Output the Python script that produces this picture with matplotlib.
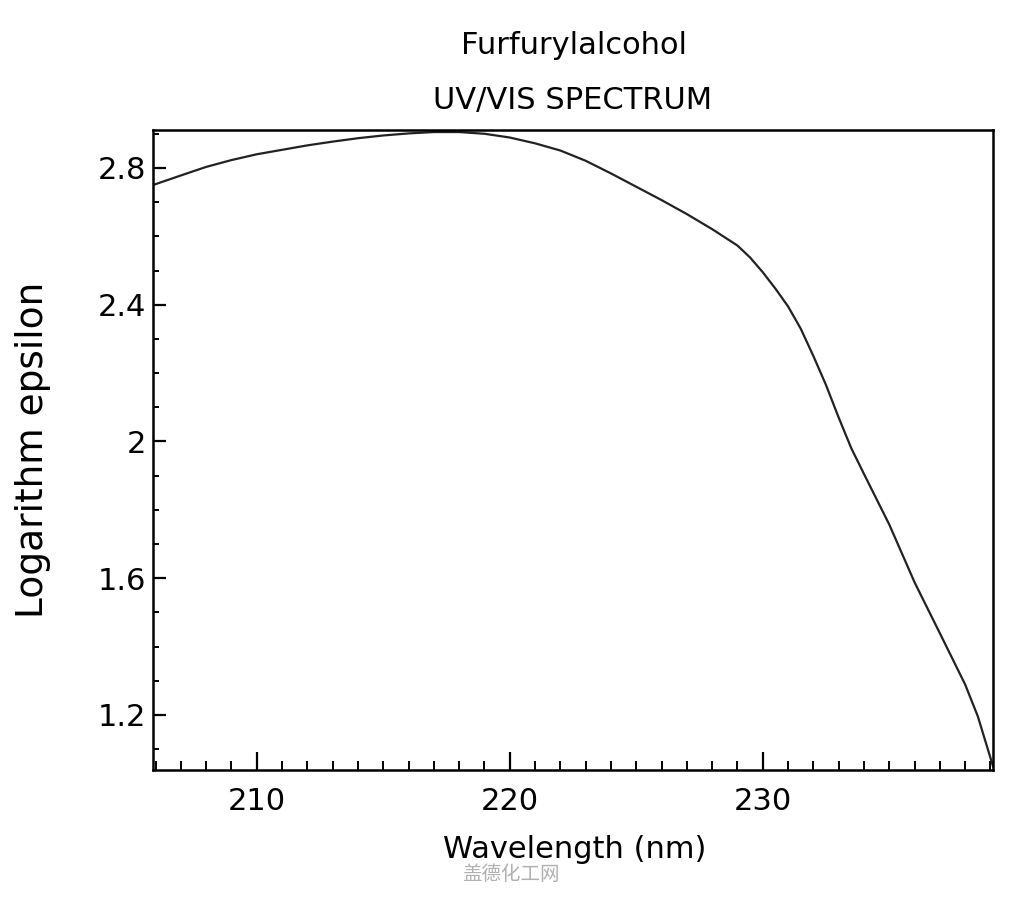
import matplotlib
matplotlib.use("Agg")
import matplotlib.pyplot as plt
from matplotlib.ticker import MultipleLocator, FuncFormatter

# spectrum (nm, log epsilon)
wavelength = [205.9, 207.0, 208.0, 209.0, 210.0, 211.0, 212.0, 213.0, 214.0,
              215.0, 216.0, 217.0, 218.0, 219.0, 220.0, 221.0, 222.0, 223.0,
              224.0, 225.0, 226.0, 227.0, 228.0, 229.0, 229.5, 230.0, 230.5,
              231.0, 231.5, 232.0, 232.5, 233.0, 233.5, 234.0, 235.0, 236.0,
              237.0, 238.0, 238.5, 239.1]
log_eps = [2.750, 2.778, 2.803, 2.823, 2.840, 2.853, 2.866, 2.877, 2.887,
           2.895, 2.901, 2.905, 2.905, 2.900, 2.889, 2.872, 2.851, 2.821,
           2.784, 2.745, 2.706, 2.665, 2.621, 2.573, 2.538, 2.495, 2.447,
           2.395, 2.330, 2.250, 2.165, 2.070, 1.980, 1.905, 1.757, 1.588,
           1.439, 1.289, 1.196, 1.050]

compound = "Furfurylalcohol"
subtitle = "UV/VIS SPECTRUM"

fig = plt.figure(figsize=(10.24, 9.0), dpi=100)
ax = fig.add_axes([153 / 1024, 1 - 770 / 900, 840 / 1024, 640 / 900])

ax.plot(wavelength, log_eps, color="#222222", lw=1.6)
ax.set_xlim(205.9, 239.1)
ax.set_ylim(1.039, 2.911)

ax.xaxis.set_major_locator(MultipleLocator(10))
ax.xaxis.set_minor_locator(MultipleLocator(1))
ax.yaxis.set_major_locator(MultipleLocator(0.4))
ax.yaxis.set_minor_locator(MultipleLocator(0.1))
ax.yaxis.set_major_formatter(FuncFormatter(lambda v, p: "%g" % round(v, 2)))

ax.tick_params(axis="x", which="major", direction="in", length=13, width=1.6,
               labelsize=22, pad=12)
ax.tick_params(axis="x", which="minor", direction="in", length=6.5, width=1.4)
ax.tick_params(axis="y", which="major", direction="in", length=9, width=1.6,
               labelsize=22, pad=5)
ax.tick_params(axis="y", which="minor", direction="in", length=4.5, width=1.4)
for s in ax.spines.values():
    s.set_linewidth(1.8)

fig.text(574 / 1024, 1 - 45 / 900, compound, ha="center", va="center", fontsize=22)
fig.text(573 / 1024, 1 - 100 / 900, subtitle, ha="center", va="center", fontsize=22)
fig.text(575 / 1024, 1 - 850 / 900, "Wavelength (nm)", ha="center", va="center",
         fontsize=22)
fig.text(33 / 1024, 1 - 450 / 900, "Logarithm epsilon", ha="center", va="center",
         rotation=90, fontsize=27)

# site watermark under the axis label
fig.text(511 / 1024, 1 - 875 / 900, "盖德化工网", ha="center", va="center",
         fontsize=14, color="#b0b0b0", family=["Noto Sans CJK SC", "DejaVu Sans"])

fig.savefig("out.png", dpi=100)
